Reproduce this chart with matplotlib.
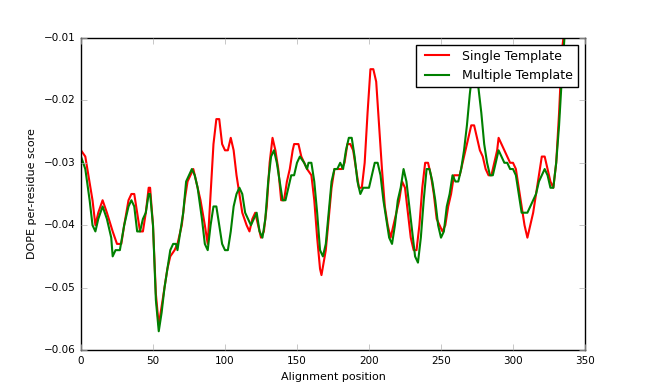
import numpy as np
import matplotlib
matplotlib.use('Agg')
import matplotlib.pyplot as plt

# DOPE profile, single template model
single_x = [0, 3, 8, 10, 12, 15, 18, 22, 25, 28, 30, 33, 35, 37, 39, 41, 43, 45, 47, 48,
            50, 52, 54, 56, 58, 60, 62, 65, 67, 70, 72, 74, 76, 78, 80, 83, 86, 88, 90, 92,
            94, 96, 98, 100, 102, 104, 106, 108, 110, 112, 115, 117, 119, 121, 123, 125, 127, 129, 131, 133,
            135, 137, 139, 141, 143, 145, 147, 148, 151, 153, 155, 157, 160, 162, 164, 166, 167, 170, 172, 174,
            176, 178, 181, 183, 185, 187, 189, 191, 193, 195, 197, 199, 201, 203, 205, 207, 209, 211, 213, 215,
            217, 219, 221, 223, 225, 227, 229, 231, 233, 235, 237, 239, 241, 243, 245, 247, 249, 251, 253, 255,
            257, 259, 261, 263, 265, 267, 269, 271, 273, 275, 277, 279, 281, 283, 285, 287, 289, 290, 292, 294,
            296, 298, 300, 302, 304, 306, 308, 310, 312, 314, 316, 318, 320, 322, 324, 326, 328, 330, 332, 334, 336]
single_y = [-0.028, -0.029, -0.036, -0.040, -0.038, -0.036, -0.038, -0.041, -0.043, -0.043,
            -0.040, -0.036, -0.035, -0.035, -0.038, -0.041, -0.041, -0.038, -0.034, -0.034,
            -0.040, -0.051, -0.056, -0.053, -0.050, -0.047, -0.045, -0.044, -0.043, -0.040,
            -0.036, -0.033, -0.032, -0.031, -0.033, -0.036, -0.040, -0.043, -0.035, -0.027,
            -0.023, -0.023, -0.027, -0.028, -0.028, -0.026, -0.028, -0.032, -0.035, -0.038,
            -0.040, -0.041, -0.039, -0.038, -0.040, -0.042, -0.041, -0.037, -0.030, -0.026,
            -0.028, -0.031, -0.036, -0.036, -0.033, -0.031, -0.028, -0.027, -0.027, -0.029,
            -0.030, -0.031, -0.032, -0.036, -0.042, -0.047, -0.048, -0.044, -0.039, -0.034,
            -0.031, -0.031, -0.031, -0.030, -0.027, -0.027, -0.028, -0.031, -0.034, -0.034,
            -0.030, -0.022, -0.015, -0.015, -0.017, -0.024, -0.031, -0.037, -0.040, -0.042,
            -0.040, -0.038, -0.036, -0.033, -0.034, -0.038, -0.042, -0.044, -0.044, -0.040,
            -0.034, -0.030, -0.030, -0.032, -0.035, -0.039, -0.040, -0.041, -0.040, -0.037,
            -0.035, -0.032, -0.032, -0.032, -0.030, -0.028, -0.026, -0.024, -0.024, -0.026,
            -0.028, -0.029, -0.031, -0.032, -0.032, -0.030, -0.028, -0.026, -0.027, -0.028,
            -0.029, -0.030, -0.030, -0.031, -0.034, -0.037, -0.040, -0.042, -0.040, -0.038,
            -0.035, -0.032, -0.029, -0.029, -0.031, -0.033, -0.034, -0.030, -0.022, -0.012, -0.008]

# DOPE profile, multiple template model
multi_x = [0, 3, 6, 8, 10, 12, 15, 18, 21, 22, 24, 27, 30, 33, 35, 37, 39, 41, 43, 45,
           47, 48, 50, 52, 54, 56, 58, 60, 62, 64, 66, 67, 69, 71, 73, 75, 77, 79, 81, 84,
           86, 88, 90, 92, 94, 96, 98, 100, 102, 104, 106, 108, 110, 112, 114, 116, 118, 120, 122, 124,
           126, 128, 130, 132, 134, 136, 138, 140, 142, 144, 146, 148, 150, 152, 155, 157, 158, 160, 162, 164,
           166, 168, 170, 172, 174, 176, 178, 180, 182, 184, 186, 188, 190, 192, 194, 196, 198, 200, 202, 204,
           206, 208, 210, 212, 214, 216, 218, 220, 222, 224, 226, 228, 230, 232, 234, 236, 238, 240, 242, 244,
           246, 248, 250, 252, 254, 256, 258, 260, 262, 264, 266, 268, 270, 272, 274, 276, 278, 280, 282, 284,
           286, 288, 290, 292, 294, 296, 298, 300, 302, 304, 306, 308, 310, 312, 314, 316, 318, 320, 322, 324,
           326, 328, 330, 332, 334, 336]
multi_y = [-0.029, -0.031, -0.036, -0.040, -0.041, -0.039, -0.037, -0.039, -0.042, -0.045,
           -0.044, -0.044, -0.040, -0.037, -0.036, -0.037, -0.041, -0.041, -0.039, -0.038,
           -0.035, -0.035, -0.040, -0.052, -0.057, -0.054, -0.050, -0.047, -0.044, -0.043,
           -0.043, -0.044, -0.041, -0.038, -0.033, -0.032, -0.031, -0.032, -0.034, -0.039,
           -0.043, -0.044, -0.040, -0.037, -0.037, -0.040, -0.043, -0.044, -0.044, -0.041,
           -0.037, -0.035, -0.034, -0.035, -0.038, -0.039, -0.040, -0.039, -0.038, -0.041,
           -0.042, -0.039, -0.033, -0.029, -0.028, -0.030, -0.033, -0.036, -0.036, -0.034,
           -0.032, -0.032, -0.030, -0.029, -0.030, -0.031, -0.030, -0.030, -0.033, -0.038,
           -0.044, -0.045, -0.043, -0.038, -0.033, -0.031, -0.031, -0.030, -0.031, -0.028,
           -0.026, -0.026, -0.029, -0.033, -0.035, -0.034, -0.034, -0.034, -0.032, -0.030,
           -0.030, -0.032, -0.036, -0.039, -0.042, -0.043, -0.040, -0.036, -0.034, -0.031,
           -0.033, -0.037, -0.041, -0.045, -0.046, -0.042, -0.036, -0.031, -0.031, -0.033,
           -0.036, -0.040, -0.042, -0.041, -0.037, -0.035, -0.032, -0.033, -0.033, -0.031,
           -0.028, -0.024, -0.019, -0.015, -0.014, -0.018, -0.022, -0.027, -0.030, -0.032,
           -0.032, -0.030, -0.028, -0.029, -0.030, -0.030, -0.031, -0.031, -0.032, -0.035,
           -0.038, -0.038, -0.038, -0.037, -0.036, -0.035, -0.033, -0.032, -0.031, -0.032,
           -0.034, -0.034, -0.030, -0.024, -0.016, -0.009]

plt.style.use('classic')
fig = plt.figure(figsize=(6.5, 3.9), dpi=100, facecolor='white')
ax = fig.add_axes([0.1246, 0.1026, 0.7754, 0.8])

ax.plot(single_x, single_y, color='red', lw=1.5, label='Single Template')
ax.plot(multi_x, multi_y, color='green', lw=1.5, label='Multiple Template')

ax.set_xlim(0, 350)
ax.set_ylim(-0.06, -0.01)
ax.set_xticks(np.arange(0, 351, 50))
ax.set_yticks(np.arange(-0.06, -0.0099, 0.01))
ax.tick_params(labelsize=7.5, colors='#b0b0b0', labelcolor='black')
ax.set_xlabel('Alignment position', fontsize=8)
ax.set_ylabel('DOPE per-residue score', fontsize=8)
leg = ax.legend(loc='upper right', fontsize=9, handlelength=2.5, borderaxespad=0.55)
leg.get_frame().set_linewidth(1.0)

fig.savefig('out.png', dpi=100, facecolor='white')
